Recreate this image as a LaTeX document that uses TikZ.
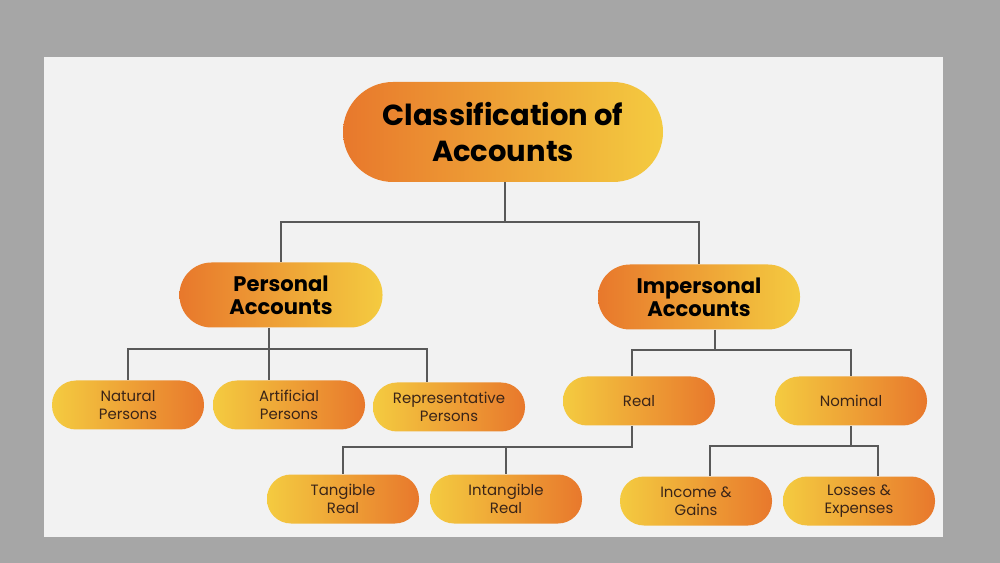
\documentclass[tikz,border=0pt]{standalone}
\usepackage{fontspec}
\setmainfont{Poppins}
\definecolor{orng}{HTML}{E8782C}
\definecolor{yllw}{HTML}{F4CB40}
\definecolor{txt}{HTML}{3A2418}
\begin{document}
\begin{tikzpicture}[x=0.02cm,y=-0.02cm,
  pill/.style={minimum width=#1*0.02cm, inner sep=0pt, align=center},
  big/.style={pill=#1, left color=orng, right color=yllw, font=\bfseries\fontsize{12}{13}\selectfont, text=black, minimum height=65*0.02cm, rounded corners=32*0.02cm},
  leaf/.style={pill=152, left color=yllw, right color=orng, font=\fontsize{8.5}{10}\selectfont, text=txt, minimum height=49*0.02cm, rounded corners=24*0.02cm},
  ln/.style={draw=black!65, line width=0.8pt}]
\fill[gray!70] (0,0) rectangle (1000,563);
\fill[black!5] (44,57) rectangle (943,537);
\node[pill=320, left color=orng, right color=yllw, minimum height=100*0.02cm, rounded corners=50*0.02cm, font=\bfseries\fontsize{16.5}{21}\selectfont, text=black] (top) at (503,132) {Classification of\\Accounts};
\node[big=203] (pers) at (281,295) {Personal\\Accounts};
\node[big=202] (imp) at (699,297) {Impersonal\\Accounts};
\node[leaf] (nat) at (128,405) {Natural\\Persons};
\node[leaf] (art) at (289,405) {Artificial\\Persons};
\node[leaf] (rep) at (449,407) {Representative\\Persons};
\node[leaf] (real) at (639,401) {Real};
\node[leaf] (nom) at (851,401) {Nominal};
\node[leaf] (tan) at (343,499) {Tangible\\Real};
\node[leaf] (intan) at (506,499) {Intangible\\Real};
\node[leaf] (inc) at (696,501) {Income \&\\Gains};
\node[leaf] (loss) at (859,501) {Losses \&\\Expenses};
\coordinate (j1) at (505,222);
\coordinate (j2) at (269,349);
\coordinate (j3) at (715,350);
\coordinate (j4) at (632,447);
\coordinate (j5) at (851,446);
\draw[ln] (top.south -| j1) -- (j1);
\draw[ln] (j1) -| (pers.north);
\draw[ln] (j1) -| (imp.north);
\draw[ln] (pers.south -| j2) -- (j2) -| (nat.north);
\draw[ln] (j2) -- (art.north -| j2);
\draw[ln] (j2) -| ([xshift=-22*0.02cm]rep.north);
\draw[ln] (imp.south -| j3) -- (j3);
\draw[ln] (j3) -| ([xshift=-7*0.02cm]real.north);
\draw[ln] (j3) -| (nom.north);
\draw[ln] (real.south -| j4) -- (j4) -| (tan.north);
\draw[ln] (j4) -| (intan.north);
\draw[ln] (nom.south -| j5) -- (j5) -| ([xshift=14*0.02cm]inc.north);
\draw[ln] (j5) -| ([xshift=19*0.02cm]loss.north);
\end{tikzpicture}
\end{document}
